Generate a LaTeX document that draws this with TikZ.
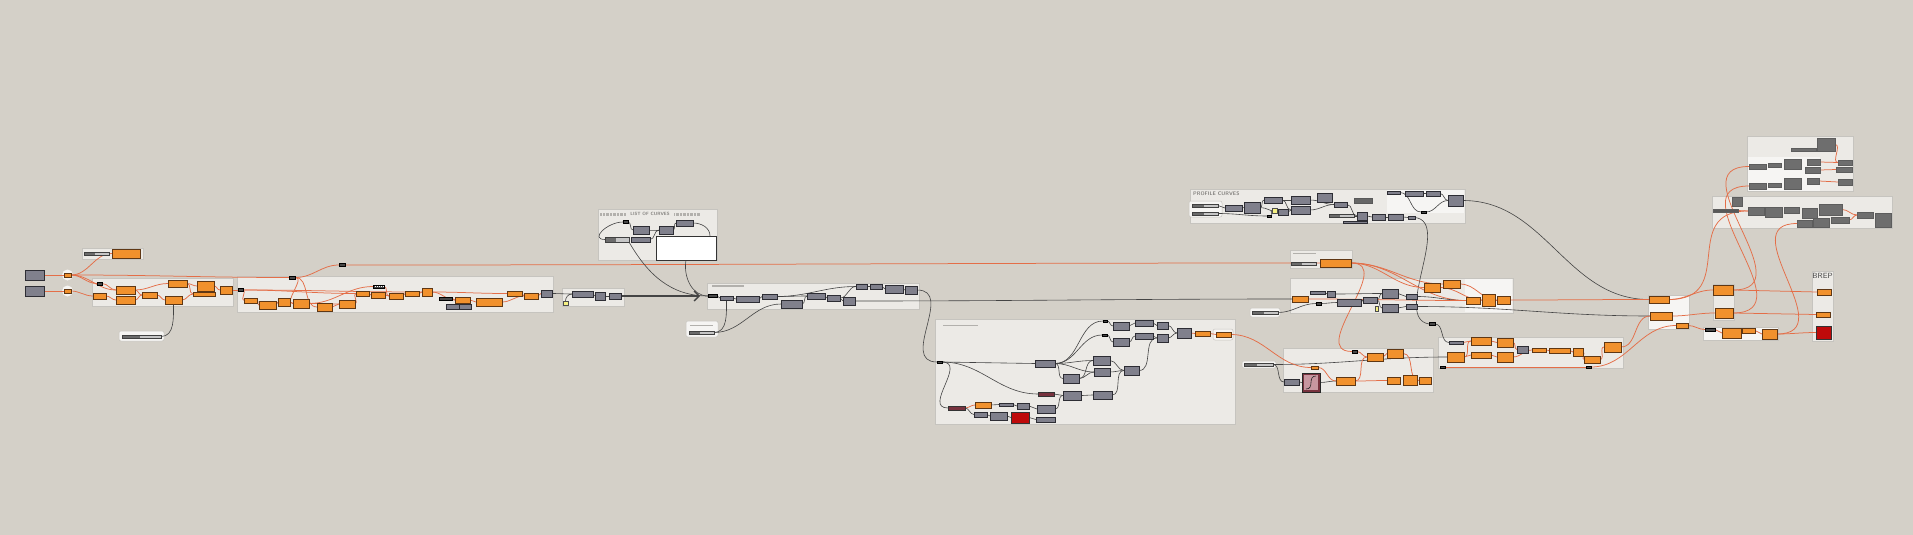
\documentclass[tikz,border=0pt]{standalone}
\usepackage{tikz}
\usetikzlibrary{arrows.meta,calc}
\usepackage{xcolor}
\definecolor{canvasbg}{RGB}{212,208,200}
\definecolor{grpfill}{RGB}{236,234,230}
\definecolor{grpline}{RGB}{198,196,191}
\definecolor{grpwhite}{RGB}{246,245,243}
\definecolor{compgray}{RGB}{128,128,140}
\definecolor{compline}{RGB}{45,45,52}
\definecolor{flatgray}{RGB}{110,110,110}
\definecolor{compor}{RGB}{241,145,45}
\definecolor{oline}{RGB}{95,55,20}
\definecolor{wireor}{RGB}{228,110,72}
\definecolor{wiredk}{RGB}{68,68,68}
\definecolor{redcomp}{RGB}{190,10,10}
\definecolor{mapper}{RGB}{120,50,62}
\definecolor{mapperin}{RGB}{200,150,160}
\definecolor{yel}{RGB}{245,240,130}
\definecolor{titlegray}{RGB}{178,176,172}
\definecolor{titletext}{RGB}{130,128,125}
\pgfdeclarelayer{bg}
\pgfdeclarelayer{wires}
\pgfsetlayers{bg,wires,main}
\tikzstyle{grp} = [draw=grpline, fill=grpfill, line width=0.5pt]
\tikzstyle{pnl} = [draw=grpline, fill=grpwhite, rounded corners=2pt, line width=0.5pt]
\tikzstyle{tline} = [draw=titlegray, line width=1.2pt]
\tikzstyle{gcomp} = [rectangle, draw=compline, fill=compgray, line width=0.6pt, inner sep=0pt, outer sep=0pt]
\tikzstyle{ocomp} = [gcomp, draw=oline, fill=compor]
\tikzstyle{fcomp} = [gcomp, draw=flatgray!85!black, fill=flatgray]
\tikzstyle{dcomp} = [gcomp, draw=black, fill=black!72]
\tikzstyle{rcomp} = [gcomp, draw=black!80, fill=redcomp]
\tikzstyle{ycomp} = [gcomp, draw=black!70, fill=yel]
\tikzstyle{sld} = [gcomp, draw=black!75, fill=gray!45, path picture={\fill[black!58] (path picture bounding box.south west) rectangle ($(path picture bounding box.north west)!0.45!(path picture bounding box.north east)$);}]
\tikzstyle{gmap} = [gcomp, draw=black!85, fill=mapper, path picture={\fill[mapperin] ($(path picture bounding box.south west)+(2pt,2pt)$) rectangle ($(path picture bounding box.north east)+(-2pt,-2pt)$); \draw[black!85, line width=0.6pt] ($(path picture bounding box.south west)+(4pt,3pt)$) .. controls ($(path picture bounding box.south)+(4pt,3pt)$) and ($(path picture bounding box.north)+(-4pt,-3pt)$) .. ($(path picture bounding box.north east)+(-4pt,-3pt)$);}]
\tikzstyle{owire} = [draw=wireor, line width=0.75pt]
\tikzstyle{dwire} = [draw=wiredk, line width=0.6pt]
\tikzstyle{lnk} = [out=0, in=180]

\begin{document}
\begin{tikzpicture}[x=1pt, y=-1pt]
  \begin{pgfonlayer}{bg}
    \fill[canvasbg] (0,0) rectangle (1913,535);
    % groups
    \draw[grp] (82,248) rectangle (143,259);
    \draw[grp] (92,278) rectangle (233,306);
    \draw[grp] (237,276) rectangle (553,312);
    \draw[pnl] (119,331) rectangle (164,341);
    \fill[grpwhite] (67.5,275) circle (5.5);
    \fill[grpwhite] (67.5,291) circle (5.5);
    \draw[grp] (598,209) rectangle (717,260);
    \draw[grp] (562,288) rectangle (624,306);
    \draw[grp] (707,283) rectangle (919,309);
    \draw[pnl] (686,321) rectangle (718,337);
    \draw[grp] (935,319) rectangle (1235,424);
    \draw[pnl] (1213,329) rectangle (1233,340);
    \draw[grp] (1190,189) rectangle (1465,223);
    \fill[grpwhite] (1387,190) rectangle (1464,213);
    \draw[pnl] (1189,201) rectangle (1222,217);
    \draw[grp] (1290,250) rectangle (1352,268);
    \draw[grp] (1290,278) rectangle (1513,313);
    \fill[grpwhite] (1465,279) rectangle (1512,312);
    \draw[pnl] (1250,308) rectangle (1280,317);
    \draw[grp] (1283,348) rectangle (1433,392);
    \draw[pnl] (1242,361) rectangle (1276,368);
    \draw[grp] (1438,337) rectangle (1623,368);
    \draw[grp, fill=grpwhite] (1648,295) rectangle (1689,329);
    \draw[grp] (1713,284) rectangle (1734,320);
    \draw[grp, fill=grpwhite] (1703,327) rectangle (1778,340);
    \draw[grp] (1812,271) rectangle (1833,341);
    \draw[grp] (1747,136) rectangle (1853,191);
    \fill[grpwhite] (1747.5,157) rectangle (1820,190.5);
    \draw[grp] (1712,196) rectangle (1892,228);
    % faint group titles
    \draw[tline] (712,286) -- (744,286);
    \draw[tline] (690,325.5) -- (713,325.5);
    \draw[tline] (943,325.5) -- (978,325.5);
    \draw[tline] (1293,253.5) -- (1316,253.5);
  \end{pgfonlayer}
  \useasboundingbox (0,0) rectangle (1913,535);

  % titles
  \node[font=\fontsize{4.6}{5}\selectfont\sffamily\bfseries, text=titletext] (dtitle) at (650,214) {LIST OF CURVES};
  \node[font=\fontsize{5.2}{6}\selectfont\sffamily\bfseries, text=titletext, anchor=west, inner sep=0pt] (htitle) at (1193,194) {PROFILE CURVES};
  \node[font=\fontsize{7.5}{8}\selectfont\sffamily, text=black!72, inner sep=0pt] (rtitle) at (1822.5,275.5) {BREP};
  \begin{pgfonlayer}{bg}
    \draw[titlegray, line width=3pt, dash pattern=on 0.7pt off 0.7pt] ([xshift=-1pt]dtitle.west) -- (600,214);
    \draw[titlegray, line width=3pt, dash pattern=on 0.7pt off 0.7pt] ([xshift=1pt]dtitle.east) -- (700,214);
  \end{pgfonlayer}

  % inputs
  \node[gcomp, minimum width=19, minimum height=10] (a1) at (34.5,275) {};
  \node[gcomp, minimum width=19, minimum height=10] (a2) at (34.5,291) {};
  \node[ocomp, minimum width=7, minimum height=4] (a3) at (67.5,275) {};
  \node[ocomp, minimum width=7, minimum height=4] (a4) at (67.5,291) {};
  \node[sld, minimum width=25, minimum height=3] (a5) at (96.5,253.5) {};
  \node[ocomp, minimum width=28, minimum height=9] (a6) at (126,253.5) {};
  \node[sld, minimum width=39, minimum height=3] (a7) at (141.5,336.5) {};

  % first group
  \node[dcomp, minimum width=5, minimum height=3] (b1) at (99.5,283.5) {};
  \node[ocomp, minimum width=13, minimum height=6] (b2) at (99.5,296) {};
  \node[ocomp, minimum width=19, minimum height=8] (b3) at (125.5,290) {};
  \node[ocomp, minimum width=19, minimum height=8] (b4) at (125.5,300) {};
  \node[ocomp, minimum width=15, minimum height=6] (b5) at (149.5,295) {};
  \node[ocomp, minimum width=19, minimum height=7] (b6) at (177.5,283.5) {};
  \node[ocomp, minimum width=17, minimum height=8] (b7) at (173.5,300) {};
  \node[ocomp, minimum width=17, minimum height=10] (b8) at (205.5,286) {};
  \node[ocomp, minimum width=22, minimum height=4] (b9) at (204,294) {};
  \node[ocomp, minimum width=12, minimum height=8] (b10) at (226,290) {};

  % second group
  \node[dcomp, minimum width=6, minimum height=3] (c0) at (292.5,277.5) {};
  \node[dcomp, minimum width=5, minimum height=3] (c1) at (240.5,290) {};
  \node[ocomp, minimum width=13, minimum height=5] (c2) at (250.5,300.5) {};
  \node[ocomp, minimum width=17, minimum height=8] (c3) at (267.5,305) {};
  \node[ocomp, minimum width=12, minimum height=8] (c4) at (284,302) {};
  \node[ocomp, minimum width=16, minimum height=9] (c5) at (301,303.5) {};
  \node[ocomp, minimum width=15, minimum height=8] (c6) at (324.5,307) {};
  \node[ocomp, minimum width=16, minimum height=8] (c7) at (347,304) {};
  \node[ocomp, minimum width=13, minimum height=5] (c8) at (362.5,293.5) {};
  \node[ocomp, minimum width=14, minimum height=6] (c9) at (378,295) {};
  \node[ocomp, minimum width=14, minimum height=6] (c10) at (396,296) {};
  \node[ocomp, minimum width=14, minimum height=5] (c11) at (412,293.5) {};
  \node[ocomp, minimum width=10, minimum height=8] (c12) at (427,292) {};
  \node[dcomp, minimum width=11, minimum height=3, path picture={\draw[white, dash pattern=on 1pt off 1pt] (path picture bounding box.west) -- (path picture bounding box.east);}] (c13) at (378.5,286.5) {};
  \node[dcomp, minimum width=13, minimum height=3] (c14) at (445.5,298.5) {};
  \node[ocomp, minimum width=15, minimum height=6] (c15) at (462.5,300) {};
  \node[gcomp, minimum width=13, minimum height=5] (c16) at (452.5,306.5) {};
  \node[gcomp, minimum width=12, minimum height=5] (c17) at (465,306.5) {};
  \node[ocomp, minimum width=26, minimum height=8] (c18) at (489,302) {};
  \node[ocomp, minimum width=15, minimum height=5] (c19) at (514.5,293.5) {};
  \node[ocomp, minimum width=14, minimum height=6] (c20) at (531,296) {};
  \node[gcomp, minimum width=11, minimum height=7] (c21) at (546.5,293.5) {};
  \node[dcomp, minimum width=6, minimum height=3] (c22) at (342,265) {};

  % list of curves
  \node[dcomp, minimum width=5, minimum height=2.5] (d1) at (625.5,222) {};
  \node[gcomp, minimum width=16, minimum height=8] (d2) at (641,230) {};
  \node[gcomp, minimum width=14, minimum height=8] (d3) at (666,230) {};
  \node[gcomp, minimum width=17, minimum height=6] (d4) at (684.5,223) {};
  \node[sld, minimum width=24, minimum height=5] (d5) at (617,239.5) {};
  \node[gcomp, minimum width=19, minimum height=5] (d6) at (640.5,239.5) {};
  \node[gcomp, fill=white, draw=black!80, minimum width=60, minimum height=24] (d7) at (686,248) {};

  % small group and arrow
  \node[gcomp, minimum width=21, minimum height=6] (e1) at (582.5,294) {};
  \node[gcomp, minimum width=10, minimum height=8] (e2) at (600,296) {};
  \node[gcomp, minimum width=12, minimum height=6] (e3) at (615,296) {};
  \node[ycomp, minimum width=5, minimum height=4] (e4) at (565.5,303) {};

  % third group
  \node[dcomp, minimum width=9, minimum height=3] (f1) at (712.5,296) {};
  \node[gcomp, minimum width=13, minimum height=4] (f2) at (726.5,298) {};
  \node[gcomp, minimum width=23, minimum height=6] (f3) at (747.5,299) {};
  \node[gcomp, minimum width=15, minimum height=5] (f4) at (769.5,296.5) {};
  \node[gcomp, minimum width=21, minimum height=8] (f5) at (791.5,304) {};
  \node[gcomp, minimum width=18, minimum height=6] (f6) at (816,296) {};
  \node[gcomp, minimum width=13, minimum height=6] (f7) at (833.5,298) {};
  \node[gcomp, minimum width=12, minimum height=8] (f8) at (849,301) {};
  \node[gcomp, minimum width=11, minimum height=5] (f9) at (861.5,286.5) {};
  \node[gcomp, minimum width=12, minimum height=5] (f10) at (876,286.5) {};
  \node[gcomp, minimum width=18, minimum height=8] (f11) at (894,289) {};
  \node[gcomp, minimum width=12, minimum height=8] (f12) at (911,290) {};
  \node[sld, minimum width=25, minimum height=3] (fsl) at (701.5,332.5) {};

  % big group
  \node[dcomp, minimum width=5, minimum height=2] (g1) at (939.5,362) {};
  \node[gcomp, minimum width=20, minimum height=7] (g2) at (1045,363.5) {};
  \node[rcomp, fill=mapper, minimum width=16, minimum height=4] (g3) at (1046,394) {};
  \node[gcomp, minimum width=16, minimum height=9] (g4) at (1071,378.5) {};
  \node[gcomp, minimum width=18, minimum height=9] (g5) at (1072,395.5) {};
  \node[gcomp, minimum width=17, minimum height=9] (g6) at (1101.5,360.5) {};
  \node[gcomp, minimum width=16, minimum height=8] (g7) at (1102,372) {};
  \node[gcomp, minimum width=19, minimum height=8] (g8) at (1102.5,395) {};
  \node[gcomp, minimum width=15, minimum height=9] (g9) at (1131.5,370.5) {};
  \node[dcomp, minimum width=4, minimum height=2] (g10) at (1105,321) {};
  \node[dcomp, minimum width=5, minimum height=2] (g11) at (1104.5,335) {};
  \node[gcomp, minimum width=16, minimum height=8] (g12) at (1121,326) {};
  \node[gcomp, minimum width=16, minimum height=8] (g13) at (1121,342) {};
  \node[gcomp, minimum width=18, minimum height=6] (g14) at (1144,323) {};
  \node[gcomp, minimum width=18, minimum height=6] (g15) at (1144,336) {};
  \node[gcomp, minimum width=11, minimum height=7] (g16) at (1162.5,325.5) {};
  \node[gcomp, minimum width=11, minimum height=8] (g17) at (1162.5,338) {};
  \node[gcomp, minimum width=14, minimum height=10] (g18) at (1184,333) {};
  \node[ocomp, minimum width=15, minimum height=5] (g19) at (1202.5,333.5) {};
  \node[ocomp, minimum width=15, minimum height=5] (g20) at (1223.5,334.5) {};
  \node[rcomp, fill=mapper, minimum width=17, minimum height=4] (g21) at (956.5,408) {};
  \node[ocomp, minimum width=16, minimum height=6] (g22) at (983,405) {};
  \node[gcomp, minimum width=14, minimum height=3] (g23) at (1006,404.5) {};
  \node[gcomp, minimum width=12, minimum height=6] (g24) at (1023,406) {};
  \node[gcomp, minimum width=18, minimum height=8] (g25) at (1046,409) {};
  \node[gcomp, minimum width=13, minimum height=5] (g26) at (980.5,414.5) {};
  \node[gcomp, minimum width=17, minimum height=8] (g27) at (998.5,416) {};
  \node[rcomp, minimum width=18, minimum height=11] (g28) at (1020,417.5) {};
  \node[gcomp, minimum width=19, minimum height=5] (g29) at (1045.5,419.5) {};

  % profile curves
  \node[sld, minimum width=26, minimum height=3] (h1) at (1205,205.5) {};
  \node[sld, minimum width=26, minimum height=3] (h2) at (1205,213.5) {};
  \node[gcomp, minimum width=17, minimum height=6] (h3) at (1233.5,208) {};
  \node[gcomp, minimum width=16, minimum height=11] (h4) at (1252,207.5) {};
  \node[gcomp, minimum width=18, minimum height=6] (h5) at (1273,200) {};
  \node[gcomp, minimum width=19, minimum height=8] (h6) at (1300.5,200) {};
  \node[gcomp, minimum width=19, minimum height=8] (h7) at (1300.5,210) {};
  \node[gcomp, minimum width=10, minimum height=6] (h8) at (1283,212) {};
  \node[ycomp, minimum width=5, minimum height=5] (h9) at (1274.5,210.5) {};
  \node[dcomp, minimum width=4, minimum height=2] (h10) at (1269,216) {};
  \node[gcomp, minimum width=15, minimum height=9] (h11) at (1324.5,197.5) {};
  \node[gcomp, minimum width=13, minimum height=5] (h12) at (1340.5,204.5) {};
  \node[fcomp, fill=gray!80!black, draw=gray!70!black, minimum width=18, minimum height=5] (h13) at (1363,200.5) {};
  \node[sld, minimum width=25, minimum height=2.5] (h14) at (1341.5,216) {};
  \node[gcomp, minimum width=10, minimum height=8] (h15) at (1362,216) {};
  \node[gcomp, minimum width=24, minimum height=2] (h16) at (1355,222) {};
  \node[gcomp, minimum width=13, minimum height=6] (h17) at (1378.5,217) {};
  \node[gcomp, minimum width=15, minimum height=6] (h18) at (1395.5,217) {};
  \node[gcomp, minimum width=7, minimum height=3] (h19) at (1411.5,217.5) {};
  \node[gcomp, minimum width=13, minimum height=3] (h20) at (1393.5,192.5) {};
  \node[gcomp, minimum width=18, minimum height=5] (h21) at (1414,193.5) {};
  \node[gcomp, minimum width=14, minimum height=5] (h22) at (1433,193.5) {};
  \node[gcomp, minimum width=15, minimum height=11] (h23) at (1455.5,200.5) {};
  \node[dcomp, minimum width=5, minimum height=2] (h24) at (1423.5,212) {};

  % middle right groups
  \node[sld, minimum width=25, minimum height=3] (k1) at (1303.5,263.5) {};
  \node[ocomp, minimum width=31, minimum height=8] (k2) at (1335.5,263) {};
  \node[ocomp, minimum width=16, minimum height=6] (m1) at (1300,299) {};
  \node[gcomp, minimum width=15, minimum height=3] (m2) at (1317.5,292.5) {};
  \node[gcomp, minimum width=8, minimum height=6] (m3) at (1331,294) {};
  \node[dcomp, minimum width=5, minimum height=3] (m4) at (1318.5,303.5) {};
  \node[gcomp, minimum width=24, minimum height=7] (m5) at (1349,302.5) {};
  \node[gcomp, minimum width=14, minimum height=6] (m6) at (1370,300) {};
  \node[gcomp, minimum width=16, minimum height=9] (m7) at (1390,293.5) {};
  \node[gcomp, minimum width=16, minimum height=8] (m8) at (1390,308) {};
  \node[ycomp, minimum width=3, minimum height=5] (m9) at (1376.5,308.5) {};
  \node[gcomp, minimum width=11, minimum height=5] (m10) at (1411.5,296.5) {};
  \node[gcomp, minimum width=11, minimum height=5] (m11) at (1411.5,306.5) {};
  \node[ocomp, minimum width=16, minimum height=9] (m12) at (1432,287.5) {};
  \node[ocomp, minimum width=17, minimum height=8] (m13) at (1451.5,284) {};
  \node[ocomp, minimum width=14, minimum height=7] (m14) at (1473,300.5) {};
  \node[ocomp, minimum width=13, minimum height=12] (m15) at (1488.5,300) {};
  \node[ocomp, minimum width=13, minimum height=8] (m16) at (1503.5,300) {};
  \node[sld, minimum width=26, minimum height=3] (m17) at (1265,312.5) {};

  \node[sld, minimum width=29, minimum height=3] (n1) at (1258.5,364.5) {};
  \node[gcomp, minimum width=15, minimum height=6] (n2) at (1291.5,382) {};
  \node[gmap, minimum width=18, minimum height=19] (n3) at (1311,382.5) {};
  \node[ocomp, minimum width=7, minimum height=3] (n4) at (1314.5,367.5) {};
  \node[ocomp, minimum width=19, minimum height=8] (n5) at (1345.5,381) {};
  \node[dcomp, minimum width=5, minimum height=3] (n6) at (1354.5,351.5) {};
  \node[ocomp, minimum width=16, minimum height=8] (n7) at (1375,357) {};
  \node[ocomp, minimum width=16, minimum height=9] (n8) at (1395,353.5) {};
  \node[ocomp, minimum width=13, minimum height=7] (n9) at (1393.5,380.5) {};
  \node[ocomp, minimum width=14, minimum height=10] (n10) at (1410,380) {};
  \node[ocomp, minimum width=12, minimum height=7] (n11) at (1425,380.5) {};

  \node[dcomp, minimum width=6, minimum height=2.5] (p0) at (1432,324) {};
  \node[gcomp, minimum width=14, minimum height=3] (p1) at (1456,342.5) {};
  \node[ocomp, minimum width=17, minimum height=10] (p2) at (1455.5,357) {};
  \node[ocomp, minimum width=20, minimum height=8] (p3) at (1481,341) {};
  \node[ocomp, minimum width=20, minimum height=6] (p4) at (1481,355) {};
  \node[ocomp, minimum width=16, minimum height=9] (p5) at (1505,342.5) {};
  \node[ocomp, minimum width=16, minimum height=10] (p6) at (1505,357) {};
  \node[gcomp, minimum width=11, minimum height=7] (p7) at (1522.5,349.5) {};
  \node[ocomp, minimum width=14, minimum height=4] (p8) at (1539,350) {};
  \node[ocomp, minimum width=21, minimum height=5] (p9) at (1559.5,350.5) {};
  \node[ocomp, minimum width=10, minimum height=8] (p10) at (1578,352) {};
  \node[ocomp, minimum width=16, minimum height=7] (p11) at (1592,359.5) {};
  \node[ocomp, minimum width=17, minimum height=10] (p12) at (1612.5,347) {};
  \node[dcomp, minimum width=5, minimum height=2] (p13) at (1442.5,367) {};
  \node[dcomp, minimum width=5, minimum height=2] (p14) at (1588.5,367) {};

  % output side
  \node[ocomp, minimum width=20, minimum height=7] (q1) at (1659,299.5) {};
  \node[ocomp, minimum width=22, minimum height=8] (q2) at (1661,316) {};
  \node[ocomp, minimum width=12, minimum height=5] (q3) at (1682,325.5) {};
  \node[ocomp, minimum width=20, minimum height=10] (q4) at (1723,290) {};
  \node[ocomp, minimum width=18, minimum height=10] (q5) at (1724,313) {};
  \node[dcomp, minimum width=10, minimum height=3] (q6) at (1710,329.5) {};
  \node[ocomp, minimum width=19, minimum height=10] (q7) at (1731.5,333) {};
  \node[ocomp, minimum width=13, minimum height=5] (q8) at (1748.5,330.5) {};
  \node[ocomp, minimum width=15, minimum height=10] (q9) at (1769.5,334) {};
  \node[ocomp, minimum width=14, minimum height=6] (r1) at (1824,292) {};
  \node[ocomp, minimum width=14, minimum height=5] (r2) at (1823,314.5) {};
  \node[rcomp, minimum width=15, minimum height=13] (r3) at (1823.5,332.5) {};

  % top right groups
  \node[fcomp, minimum width=25, minimum height=3] (s1) at (1803.5,149.5) {};
  \node[fcomp, minimum width=18, minimum height=13] (s2) at (1826,144.5) {};
  \node[fcomp, minimum width=17, minimum height=5] (s3) at (1757.5,166.5) {};
  \node[fcomp, minimum width=13, minimum height=4] (s4) at (1774.5,165) {};
  \node[fcomp, minimum width=17, minimum height=10] (s5) at (1792.5,164) {};
  \node[fcomp, minimum width=13, minimum height=6] (s6) at (1813.5,162) {};
  \node[fcomp, minimum width=15, minimum height=6] (s7) at (1812.5,170) {};
  \node[fcomp, minimum width=14, minimum height=5] (s8) at (1845,162.5) {};
  \node[fcomp, minimum width=16, minimum height=5] (s9) at (1844,169.5) {};
  \node[fcomp, minimum width=17, minimum height=6] (s10) at (1757.5,186) {};
  \node[fcomp, minimum width=13, minimum height=4] (s11) at (1774.5,185) {};
  \node[fcomp, minimum width=17, minimum height=11] (s12) at (1792.5,183.5) {};
  \node[fcomp, minimum width=12, minimum height=6] (s13) at (1813,181) {};
  \node[fcomp, minimum width=14, minimum height=6] (s14) at (1845,182) {};
  \node[fcomp, minimum width=10, minimum height=9] (t1) at (1737,201.5) {};
  \node[fcomp, fill=flatgray!80!black, minimum width=25, minimum height=3] (t2) at (1725.5,210.5) {};
  \node[fcomp, minimum width=16, minimum height=8] (t3) at (1756,211) {};
  \node[fcomp, minimum width=17, minimum height=10] (t4) at (1773.5,212) {};
  \node[fcomp, minimum width=15, minimum height=6] (t5) at (1791.5,210) {};
  \node[fcomp, minimum width=15, minimum height=10] (t6) at (1809.5,213) {};
  \node[fcomp, minimum width=23, minimum height=11] (t7) at (1830.5,209.5) {};
  \node[fcomp, minimum width=15, minimum height=7] (t8) at (1804.5,223.5) {};
  \node[fcomp, minimum width=16, minimum height=9] (t9) at (1821,222.5) {};
  \node[fcomp, minimum width=18, minimum height=6] (t10) at (1840,220) {};
  \node[fcomp, minimum width=16, minimum height=6] (t11) at (1865,215) {};
  \node[fcomp, minimum width=16, minimum height=14] (t12) at (1883,220) {};

  \begin{pgfonlayer}{wires}
    % left part
    \draw[owire] (a1.east) -- (a3.west);
    \draw[owire] (a2.east) -- (a4.west);
    \draw[owire] (a3.east) to[lnk] (a6.west);
    \draw[owire] (a3.east) to[lnk] (c0.west);
    \draw[owire] (a3.east) to[lnk] (b1.west);
    \draw[owire] (a3.east) to[lnk] (b3.west);
    \draw[owire] (a4.east) to[lnk] (b2.west);
    \draw[owire] (b1.east) to[lnk] (b3.west);
    \draw[owire] (b2.east) to[lnk] (b4.west);
    \draw[owire] (b3.east) to[lnk] (b5.west);
    \draw[owire] (b4.east) to[lnk] (b5.west);
    \draw[owire] (b5.east) to[lnk] (b7.west);
    \draw[owire] (b3.east) to[lnk] (b6.west);
    \draw[owire] (b6.east) to[lnk] (b8.west);
    \draw[owire] (b7.east) to[lnk] (b9.west);
    \draw[owire] (b6.east) to[lnk] (b9.west);
    \draw[owire] (b8.east) to[lnk] (b10.west);
    \draw[dwire] (a7.east) to[out=0, in=-90] (b7.south);
    \draw[owire] (b10.east) to[lnk] (c1.west);
    \draw[owire] (c0.east) to[lnk] (c22.west);
    \draw[owire] (c22.east) to[lnk] (k2.west);
    \draw[owire] (c0.east) to[lnk] (c5.west);
    \draw[owire] (c0.east) to[lnk] (c6.west);
    \draw[owire] (c1.east) to[lnk] (c2.west);
    \draw[owire] (c1.east) to[lnk] (c8.west);
    \draw[owire] (c1.east) to[lnk] (c12.west);
    \draw[owire] (c2.east) to[lnk] (c3.west);
    \draw[owire] (c3.east) to[lnk] (c4.west);
    \draw[owire] (c4.east) to[lnk] (c5.west);
    \draw[owire] (c5.east) to[lnk] (c7.west);
    \draw[owire] (c6.east) to[lnk] (c7.west);
    \draw[owire] (c7.east) to[lnk] (c8.west);
    \draw[owire] (c5.east) to[lnk] (c13.west);
    \draw[owire] (c13.east) to[lnk] (c10.west);
    \draw[owire] (c8.east) to[lnk] (c9.west);
    \draw[owire] (c9.east) to[lnk] (c10.west);
    \draw[owire] (c10.east) to[lnk] (c11.west);
    \draw[owire] (c11.east) to[lnk] (c12.west);
    \draw[owire] (c12.east) to[lnk] (c19.west);
    \draw[owire] (c12.east) to[lnk] (c15.west);
    \draw[owire] (c14.east) to[lnk] (c15.west);
    \draw[owire] (c15.east) to[lnk] (c18.west);
    \draw[owire] (c18.east) to[lnk] (c20.west);
    \draw[owire] (c19.east) to[lnk] (c20.west);
    \draw[owire] (c20.east) to[lnk] (c21.west);
    \draw[dwire] (c21.east) to[lnk] (e1.west);
    % list of curves
    \draw[dwire] (d5.west) to[out=180, in=180, looseness=1.6] (d1.west);
    \draw[dwire] (d1.east) to[lnk] (d2.west);
    \draw[dwire] (d2.east) to[lnk] (d3.west);
    \draw[dwire] (d6.east) to[lnk] (d3.west);
    \draw[dwire] (d3.east) to[lnk] (d4.west);
    \draw[dwire] (d4.east) to[out=0, in=90] ([xshift=-6pt]d7.north east);
    \draw[dwire] (d5.south east) to[out=-60, in=180] (f1.west);
    \draw[dwire] (d7.south) to[out=-100, in=180] (f1.west);
    \draw[dwire] (e1.east) -- (e2.west);
    \draw[dwire] (e2.east) -- (e3.west);
    \draw[dwire] (e4.north) to[out=90, in=180] (e1.west);
    \draw[dwire, line width=1.3pt, shorten >=8pt, -{Straight Barb[length=5pt, width=10pt]}] (e3.east) -- (f1.west);
    % third group
    \draw[dwire] (f1.east) -- (f2.west);
    \draw[dwire] (f2.east) to[lnk] (f3.west);
    \draw[dwire] (f3.east) to[lnk] (f4.west);
    \draw[dwire] (f4.east) to[lnk] (f6.west);
    \draw[dwire] (f5.east) to[lnk] (f6.west);
    \draw[dwire] (f4.east) to[lnk] (f9.west);
    \draw[dwire] (f6.east) to[lnk] (f7.west);
    \draw[dwire] (f7.east) to[lnk] (f8.west);
    \draw[dwire] (f7.east) to[lnk] (f9.west);
    \draw[dwire] (f9.east) -- (f10.west);
    \draw[dwire] (f10.east) to[lnk] (f11.west);
    \draw[dwire] (f11.east) to[lnk] (f12.west);
    \draw[dwire] (fsl.east) to[out=0, in=-90] (f2.south);
    \draw[dwire] (fsl.east) to[lnk] (f5.west);
    \draw[dwire] (f12.east) to[out=0, in=180, looseness=1.3] (g1.west);
    \draw[dwire] (f8.east) to[lnk] (m1.west);
    % big group
    \draw[dwire] (g1.east) -- (g2.west);
    \draw[dwire] (g1.east) to[lnk] (g3.west);
    \draw[dwire] (g1.east) to[out=0, in=180, looseness=1.4] (g21.west);
    \draw[dwire] (g2.east) to[lnk] (g4.west);
    \draw[dwire] (g2.east) to[lnk] (g6.west);
    \draw[dwire] (g2.east) to[lnk] (g7.west);
    \draw[dwire] (g2.east) to[lnk] (g10.west);
    \draw[dwire] (g2.east) to[lnk] (g11.west);
    \draw[dwire] (g10.east) to[lnk] (g12.west);
    \draw[dwire] (g11.east) to[lnk] (g13.west);
    \draw[dwire] (g4.east) to[lnk] (g6.west);
    \draw[dwire] (g4.east) to[lnk] (g7.west);
    \draw[dwire] (g3.east) to[lnk] (g5.west);
    \draw[dwire] (g5.east) to[lnk] (g8.west);
    \draw[dwire] (g6.east) to[lnk] (g9.west);
    \draw[dwire] (g7.east) to[lnk] (g9.west);
    \draw[dwire] (g8.east) to[lnk] (g9.west);
    \draw[dwire] (g12.east) to[lnk] (g14.west);
    \draw[dwire] (g13.east) to[lnk] (g15.west);
    \draw[dwire] (g14.east) to[lnk] (g16.west);
    \draw[dwire] (g15.east) to[lnk] (g17.west);
    \draw[dwire] (g9.east) to[lnk] (g17.west);
    \draw[dwire] (g16.east) to[lnk] (g18.west);
    \draw[dwire] (g17.east) to[lnk] (g18.west);
    \draw[owire] (g18.east) -- (g19.west);
    \draw[owire] (g19.east) -- (g20.west);
    \draw[owire] (g21.east) to[lnk] (g22.west);
    \draw[dwire] (g21.east) to[lnk] (g26.west);
    \draw[dwire] (g22.east) -- (g23.west);
    \draw[dwire] (g23.east) -- (g24.west);
    \draw[dwire] (g24.east) to[lnk] (g25.west);
    \draw[dwire] (g25.east) to[lnk] (g5.west);
    \draw[dwire] (g26.east) to[lnk] (g27.west);
    \draw[dwire] (g27.east) -- (g28.west);
    \draw[dwire] (g28.east) to[lnk] (g29.west);
    % profile curves
    \draw[dwire] (h1.east) to[lnk] (h3.west);
    \draw[dwire] (h2.east) to[lnk] (h10.west);
    \draw[dwire] (h3.east) -- (h4.west);
    \draw[dwire] (h4.east) to[lnk] (h5.west);
    \draw[dwire] (h4.east) to[lnk] (h8.west);
    \draw[dwire] (h10.east) to[lnk] (h9.west);
    \draw[dwire] (h5.east) to[lnk] (h6.west);
    \draw[dwire] (h5.east) to[lnk] (h7.west);
    \draw[dwire] (h8.east) to[lnk] (h7.west);
    \draw[dwire] (h6.east) to[lnk] (h12.west);
    \draw[dwire] (h7.east) to[lnk] (h12.west);
    \draw[dwire] (h12.east) to[lnk] (h15.west);
    \draw[dwire] (h14.east) -- (h15.west);
    \draw[dwire] (h15.east) to[lnk] (h17.west);
    \draw[dwire] (h17.east) -- (h18.west);
    \draw[dwire] (h18.east) -- (h19.west);
    \draw[dwire] (h20.east) to[lnk] (h24.west);
    \draw[dwire] (h24.east) to[lnk] (h23.west);
    \draw[dwire] (h21.east) -- (h22.west);
    \draw[dwire] (h22.east) to[lnk] (h23.west);
    \draw[dwire] (h19.east) .. controls (1452,222) and (1392,318) .. (p0.west);
    \draw[dwire] (h23.east) to[lnk] (q1.west);
    % middle right
    \draw[owire] (k2.east) to[lnk] (m12.west);
    \draw[owire] (k2.east) to[lnk] (m13.west);
    \draw[owire] (k2.east) to[lnk] (m14.west);
    \draw[owire] (k2.east) to[out=0, in=180, looseness=1.3] (n6.west);
    \draw[dwire] (m17.east) to[lnk] (m4.west);
    \draw[dwire] (m2.east) -- (m3.west);
    \draw[dwire] (m4.east) to[lnk] (m5.west);
    \draw[dwire] (m5.east) -- (m6.west);
    \draw[dwire] (m6.east) to[lnk] (m7.west);
    \draw[dwire] (m6.east) to[lnk] (m8.west);
    \draw[dwire] (m3.east) to[lnk] (m7.west);
    \draw[dwire] (m7.east) to[lnk] (m10.west);
    \draw[dwire] (m8.east) to[lnk] (m11.west);
    \draw[dwire] (m10.east) to[lnk] (m14.west);
    \draw[dwire] (m11.east) to[lnk] (q2.west);
    \draw[owire] (m1.east) to[lnk] (m14.west);
    \draw[owire] (m12.east) to[lnk] (m15.west);
    \draw[owire] (m13.east) to[lnk] (m16.west);
    \draw[owire] (m14.east) -- (m15.west);
    \draw[owire] (m15.east) -- (m16.west);
    \draw[owire] (m16.east) to[lnk] (q1.west);
    \draw[dwire] (n1.east) to[lnk] (n2.west);
    \draw[dwire] (n1.east) to[lnk] (p2.west);
    \draw[dwire] (n2.east) -- (n3.west);
    \draw[dwire] (n3.east) to[lnk] (n5.west);
    \draw[owire] (g20.east) to[lnk] (n4.west);
    \draw[owire] (n4.east) to[lnk] (n5.west);
    \draw[owire] (n6.east) to[lnk] (n7.west);
    \draw[owire] (n7.east) to[lnk] (n8.west);
    \draw[owire] (n5.east) to[lnk] (n9.west);
    \draw[owire] (n5.east) to[lnk] (n7.west);
    \draw[owire] (n8.east) to[lnk] (n11.west);
    \draw[owire] (n10.east) -- (n11.west);
    \draw[dwire] (p0.east) to[lnk] (p1.west);
    \draw[owire] (p1.east) to[lnk] (p3.west);
    \draw[owire] (p2.east) to[lnk] (p3.west);
    \draw[owire] (p2.east) to[lnk] (p4.west);
    \draw[owire] (p3.east) to[lnk] (p5.west);
    \draw[owire] (p4.east) to[lnk] (p6.west);
    \draw[owire] (p5.east) to[lnk] (p7.west);
    \draw[owire] (p6.east) to[lnk] (p8.west);
    \draw[owire] (p8.east) -- (p9.west);
    \draw[owire] (p9.east) -- (p10.west);
    \draw[owire] (p10.east) to[lnk] (p11.west);
    \draw[owire] (p11.east) to[lnk] (p12.west);
    \draw[owire] (p13.east) -- (p14.west);
    \draw[owire] (p14.east) to[lnk] (q3.west);
    \draw[owire] (p12.east) to[lnk] (q2.west);
    % output side
    \draw[owire] (q1.east) to[lnk] (q4.west);
    \draw[owire] (q2.east) to[lnk] (q5.west);
    \draw[owire] (q3.east) to[lnk] (q6.west);
    \draw[owire] (q6.east) -- (q7.west);
    \draw[owire] (q7.east) -- (q8.west);
    \draw[owire] (q8.east) to[lnk] (q9.west);
    \draw[owire] (q4.east) -- (r1.west);
    \draw[owire] (q5.east) -- (r2.west);
    \draw[owire] (q9.east) to[lnk] (r3.west);
    \draw[owire] (q4.east) to[out=0, in=180, looseness=1.5] (s3.west);
    \draw[owire] (q5.east) to[out=0, in=180, looseness=1.5] (s10.west);
    \draw[owire] (q9.east) to[out=0, in=180, looseness=1.5] (t8.west);
    \draw[owire] (q1.east) to[out=0, in=180, looseness=1.5] (t3.west);
    \draw[owire] (s2.east) to[lnk] (s8.west);
    \draw[owire] (s6.east) -- (s8.west);
    \draw[owire] (s7.east) -- (s9.west);
    \draw[owire] (s13.east) -- (s14.west);
    \draw[owire] (t2.east) -- (t3.west);
    \draw[owire] (t7.east) to[lnk] (t11.west);
    \draw[owire] (t10.east) to[lnk] (t11.west);
  \end{pgfonlayer}
\end{tikzpicture}
\end{document}
